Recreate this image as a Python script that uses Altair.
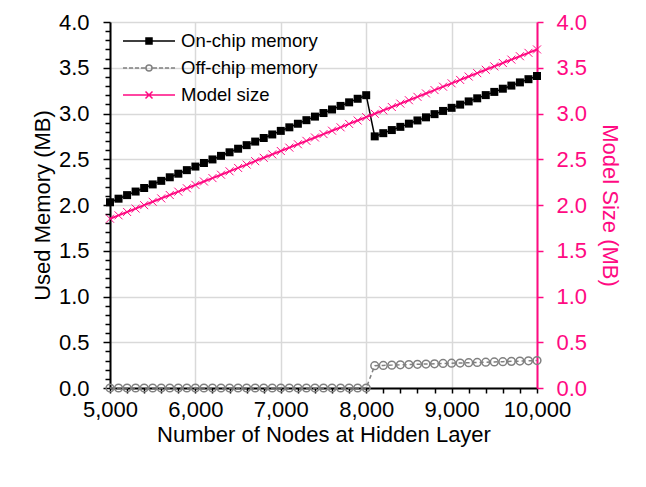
import altair as alt
import pandas as pd

PINK = "#FF0A82"

nodes = [5000, 5100, 5200, 5300, 5400, 5500, 5600, 5700, 5800, 5900,
         6000, 6100, 6200, 6300, 6400, 6500, 6600, 6700, 6800, 6900,
         7000, 7100, 7200, 7300, 7400, 7500, 7600, 7700, 7800, 7900,
         8000, 8100, 8200, 8300, 8400, 8500, 8600, 8700, 8800, 8900,
         9000, 9100, 9200, 9300, 9400, 9500, 9600, 9700, 9800, 9900,
         10000]

on_chip = [2.030, 2.069, 2.108, 2.147, 2.186, 2.225, 2.264, 2.303, 2.342, 2.381,
           2.420, 2.459, 2.498, 2.537, 2.576, 2.615, 2.654, 2.693, 2.732, 2.771,
           2.810, 2.849, 2.888, 2.927, 2.966, 3.005, 3.044, 3.083, 3.122, 3.161,
           3.200, 2.750, 2.785, 2.819, 2.854, 2.889, 2.924, 2.958, 2.993, 3.028,
           3.062, 3.097, 3.132, 3.166, 3.201, 3.236, 3.271, 3.305, 3.340, 3.375,
           3.410]

off_chip = [0.0, 0.0, 0.0, 0.0, 0.0, 0.0, 0.0, 0.0, 0.0, 0.0,
            0.0, 0.0, 0.0, 0.0, 0.0, 0.0, 0.0, 0.0, 0.0, 0.0,
            0.0, 0.0, 0.0, 0.0, 0.0, 0.0, 0.0, 0.0, 0.0, 0.0,
            0.0, 0.244, 0.247, 0.250, 0.253, 0.256, 0.259, 0.262, 0.265, 0.268,
            0.271, 0.273, 0.276, 0.279, 0.282, 0.285, 0.288, 0.291, 0.294, 0.297,
            0.300]

model_size = [1.850, 1.887, 1.924, 1.961, 1.998, 2.035, 2.072, 2.109, 2.146, 2.183,
              2.220, 2.257, 2.294, 2.331, 2.368, 2.405, 2.442, 2.479, 2.516, 2.553,
              2.590, 2.627, 2.664, 2.701, 2.738, 2.775, 2.812, 2.849, 2.886, 2.923,
              2.960, 2.997, 3.034, 3.071, 3.108, 3.145, 3.182, 3.219, 3.256, 3.293,
              3.330, 3.367, 3.404, 3.441, 3.478, 3.515, 3.552, 3.589, 3.626, 3.663,
              3.700]

series_names = ["On-chip memory", "Off-chip memory", "Model size"]
series_colors = ["#000000", "#808080", PINK]
series_fills = ["#000000", "transparent", "transparent"]

rows = []
for n, a, b, c in zip(nodes, on_chip, off_chip, model_size):
    rows.append({"nodes": n, "series": series_names[0], "value": a})
    rows.append({"nodes": n, "series": series_names[1], "value": b})
    rows.append({"nodes": n, "series": series_names[2], "value": c})
df = pd.DataFrame(rows)

FONT = "Liberation Sans"
FS = 22

x_ticks = list(range(5000, 10001, 200))
y_ticks = [round(i * 0.1, 1) for i in range(0, 41)]
y_major = [round(i * 0.5, 1) for i in range(0, 9)]

x_enc = alt.X(
    "nodes:Q",
    scale=alt.Scale(domain=[5000, 10000], nice=False, zero=False),
    axis=alt.Axis(
        title="Number of Nodes at Hidden Layer",
        values=x_ticks,
        labelExpr="datum.value % 1000 == 0 ? format(datum.value, ',') : ''",
        gridOpacity={"condition": {"test": "datum.value % 1000 == 0", "value": 1}, "value": 0},
        gridColor="#d9d9d9", gridWidth=1.5,
        domainColor="#000000", domainWidth=2,
        tickColor="#000000", tickWidth=1.5, tickSize=5,
        labelFontSize=FS, titleFontSize=FS, labelColor="#000000", titleColor="#000000",
        labelFont=FONT, titleFont=FONT, titleFontWeight="normal",
        labelPadding=6, titlePadding=4, labelFlush=False, labelOverlap=False,
    ),
)

left_y = alt.Y(
    "value:Q",
    scale=alt.Scale(domain=[0, 4], nice=False),
    axis=alt.Axis(
        title="Used Memory (MB)",
        values=y_ticks,
        labelExpr="round(datum.value * 10) % 5 == 0 ? format(datum.value, '.1f') : ''",
        gridOpacity={"condition": {"test": "round(datum.value * 10) % 5 == 0", "value": 1}, "value": 0},
        tickSize={"condition": {"test": "round(datum.value * 10) % 5 == 0", "value": 7}, "value": 5},
        gridColor="#d9d9d9", gridWidth=1.5,
        domainColor="#000000", domainWidth=2,
        tickColor="#000000", tickWidth=1.5,
        labelFontSize=FS, titleFontSize=FS, labelColor="#000000", titleColor="#000000",
        labelFont=FONT, titleFont=FONT, titleFontWeight="normal",
        labelPadding=14, titlePadding=4, labelFlush=False, labelOverlap=False,
    ),
)

right_y = alt.Y(
    "value:Q",
    scale=alt.Scale(domain=[0, 4], nice=False),
    axis=alt.Axis(
        title="Model Size (MB)", orient="right",
        values=y_major, format=".1f", grid=False,
        domainColor=PINK, domainWidth=2,
        tickColor=PINK, tickWidth=1.5, tickSize=6,
        labelFontSize=FS, titleFontSize=FS, labelColor=PINK, titleColor=PINK,
        labelFont=FONT, titleFont=FONT, titleFontWeight="normal",
        labelPadding=13, titlePadding=11, labelFlush=False, labelOverlap=False,
    ),
)

on_path = "M-2.6,0H2.6M-0.3,-0.3H0.3V0.3H-0.3Z"
off_path = ("M-2.6,0H-2.2M-2.0,0H-1.6M-1.4,0H-1.0M-0.8,0H-0.35"
            "M0.35,0H0.8M1.0,0H1.4M1.6,0H2.0M2.2,0H2.6"
            "M0.3,0A0.3,0.3,0,1,1,-0.3,0A0.3,0.3,0,1,1,0.3,0")
model_path = "M-2.6,0H2.6M-0.35,-0.35L0.35,0.35M-0.35,0.35L0.35,-0.35"
legend_shapes = [on_path, off_path, model_path]


def make_legend():
    return alt.Legend(
        title=None, orient="none", legendX=28, legendY=8,
        labelFontSize=18.5, labelFont=FONT, labelColor="#000000",
        labelOffset=21, rowPadding=6, padding=0, labelLimit=400,
        symbolStrokeWidth=1.5, symbolOpacity=1, symbolSize=400,
    )


base = alt.Chart(df)

on_line = base.transform_filter(alt.datum.series == series_names[0]).mark_line(
    strokeWidth=1.5, color="#000000").encode(x=x_enc, y=left_y)
on_pts = base.transform_filter(alt.datum.series == series_names[0]).mark_point(
    shape="square", filled=True, size=64, color="#000000", opacity=1).encode(x=x_enc, y=left_y)
off_line = base.transform_filter(alt.datum.series == series_names[1]).mark_line(
    strokeWidth=1.5, strokeDash=[4, 3], color="#808080").encode(x=x_enc, y=left_y)
off_pts = base.transform_filter(alt.datum.series == series_names[1]).mark_point(
    shape="circle", filled=False, size=60, color="#808080", strokeWidth=1.5, opacity=1).encode(x=x_enc, y=left_y)

left = alt.layer(off_line, off_pts, on_line, on_pts)

model_line = base.transform_filter(alt.datum.series == series_names[2]).mark_line(
    strokeWidth=2, color=PINK).encode(x=x_enc, y=right_y)
model_pts = base.transform_filter(alt.datum.series == series_names[2]).mark_point(
    shape="M-1,-1L1,1M-1,1L1,-1", filled=False, size=64, color=PINK, strokeWidth=1, opacity=1).encode(x=x_enc, y=right_y)

right = alt.layer(model_line, model_pts)

legend_layer = base.transform_filter("datum.series == 'none'").mark_point(
    filled=True, size=400, opacity=1, strokeWidth=1.5).encode(
    shape=alt.Shape("series:N", scale=alt.Scale(domain=series_names, range=legend_shapes), legend=make_legend()),
    fill=alt.Fill("series:N", scale=alt.Scale(domain=series_names, range=series_fills), legend=make_legend()),
    stroke=alt.Stroke("series:N", scale=alt.Scale(domain=series_names, range=series_colors), legend=make_legend()),
)


def build(with_legend, title_text=None):
    layers = [left, right] + ([legend_layer] if with_legend else [])
    c = alt.layer(*layers).resolve_scale(y="independent")
    props = dict(width=427, height=366,
                 padding={"left": 102, "top": 14, "right": 101, "bottom": 91},
                 autosize="none")
    if title_text:
        props["title"] = alt.Title(title_text, fontSize=9)
    return c.properties(**props).configure_view(stroke="#000000", strokeWidth=1.5).configure(font=FONT)


try:
    chart = build(True)
    chart.to_dict()
except Exception as e:
    msg = str(e).replace("\n", " ")[:300]
    chart = build(False, msg)

chart.save("out.html", embed_options={"renderer": "svg", "actions": False})
